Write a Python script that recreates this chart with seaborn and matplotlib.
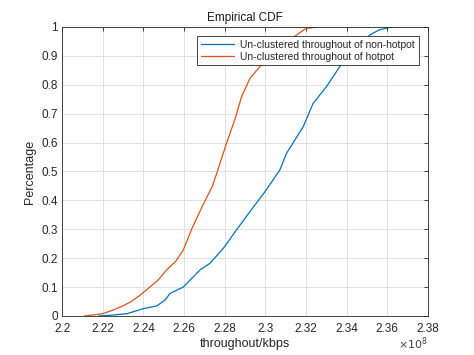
import pandas as pd
import matplotlib
matplotlib.use("Agg")
import matplotlib.pyplot as plt
import seaborn as sns
from matplotlib.ticker import FuncFormatter

# 读取的曲线点 (throughput in kbps, cumulative fraction)
hot_x = [2.2110e8, 2.2150e8, 2.2200e8, 2.2250e8, 2.2300e8, 2.2340e8, 2.2380e8,
         2.2432e8, 2.2473e8, 2.2514e8, 2.2560e8, 2.2596e8, 2.2637e8, 2.2690e8,
         2.2740e8, 2.2810e8, 2.2850e8, 2.2883e8, 2.2924e8, 2.2973e8, 2.3060e8,
         2.3153e8, 2.3200e8, 2.3258e8]
hot_y = [0.0, 0.003, 0.008, 0.02, 0.035, 0.05, 0.07,
         0.10, 0.125, 0.159, 0.19, 0.228, 0.30, 0.38,
         0.45, 0.60, 0.68, 0.759, 0.822, 0.863, 0.92,
         0.972, 0.995, 1.0]

non_x = [2.2180e8, 2.2250e8, 2.2320e8, 2.2398e8, 2.2467e8, 2.2506e8, 2.2531e8,
         2.2596e8, 2.2678e8, 2.2727e8, 2.2793e8, 2.2858e8, 2.2924e8, 2.2998e8,
         2.3071e8, 2.3104e8, 2.3186e8, 2.3235e8, 2.3300e8, 2.3366e8, 2.3440e8,
         2.3513e8, 2.3560e8, 2.3622e8]
non_y = [0.0, 0.003, 0.008, 0.025, 0.035, 0.055, 0.078,
         0.10, 0.159, 0.182, 0.234, 0.298, 0.361, 0.43,
         0.505, 0.563, 0.655, 0.736, 0.793, 0.863, 0.92,
         0.972, 0.99, 1.0]

labels = ["Un-clustered throughout of non-hotpot", "Un-clustered throughout of hotpot"]
colors = {labels[0]: "#0072BD", labels[1]: "#D95319"}

df = pd.concat([
    pd.DataFrame({"x": non_x, "y": non_y, "series": labels[0]}),
    pd.DataFrame({"x": hot_x, "y": hot_y, "series": labels[1]}),
])

sns.set_style("whitegrid")
plt.rcParams['font.family'] = ['Liberation Sans', 'DejaVu Sans']

fig = plt.figure(figsize=(4.74, 3.55), dpi=100)
ax = fig.add_axes([0.131, 0.110, 0.772, 0.814])

sns.lineplot(data=df, x="x", y="y", hue="series", palette=colors,
             sort=False, estimator=None, linewidth=0.9, ax=ax)

ax.set_xlim(2.2e8, 2.38e8)
ax.set_ylim(0, 1)
ax.set_xticks([2.2e8 + i * 0.02e8 for i in range(10)])
ax.set_yticks([i / 10 for i in range(11)])
ax.xaxis.set_major_formatter(FuncFormatter(lambda v, p: "%g" % round(v / 1e8, 4)))
ax.yaxis.set_major_formatter(FuncFormatter(lambda v, p: "%g" % round(v, 4)))

# MATLAB 风格的指数标注
ax.text(1.0, -0.068, r"$\times10^{8}$", transform=ax.transAxes, ha="right",
        va="top", fontsize=8, color="#404040")

ax.grid(True, color="#dcdcdc", linewidth=0.6)
for s in ax.spines.values():
    s.set_color("#262626")
    s.set_linewidth(0.6)
    s.set_visible(True)
ax.tick_params(direction="in", top=True, right=True, length=3, width=0.6,
               labelsize=8.5, colors="#262626", pad=3)
ax.tick_params(axis="x", pad=5)

ax.set_title("Empirical CDF", fontsize=8.5, color="#1a1a1a", pad=4)
ax.set_xlabel("throughout/kbps", fontsize=9, color="#262626", labelpad=2)
ax.set_ylabel("Percentage", fontsize=9, color="#262626", labelpad=4)

leg = ax.legend(loc="upper right", fontsize=7.5, frameon=True, fancybox=False,
                borderaxespad=0.9, handlelength=3.2, borderpad=0.35,
                labelspacing=0.15, handletextpad=0.6)
leg.get_frame().set_edgecolor("#262626")
leg.get_frame().set_linewidth(0.6)
leg.get_frame().set_alpha(1)

plt.savefig("out.png", dpi=100)
